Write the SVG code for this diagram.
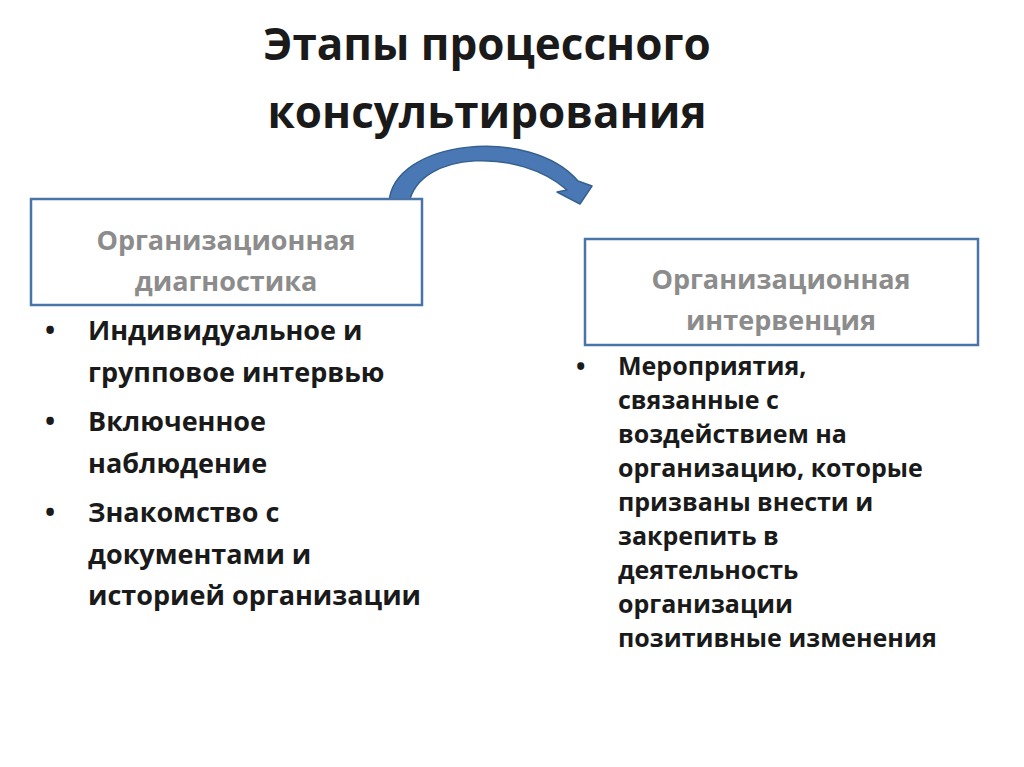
<svg xmlns="http://www.w3.org/2000/svg" width="1024" height="767" viewBox="0 0 1024 767">
<style>
.t{font-family:"Open Sans","Liberation Sans",sans-serif;font-weight:bold}
.title{font-size:44px;fill:#1a1a1a;font-weight:bold}
.box{fill:#fff;stroke:#4a74a8;stroke-width:2.5}
.h{font-size:27px;fill:#8c8c8c}
.b1{font-size:27px;fill:#1a1a1a}
.b2{font-size:25px;fill:#1a1a1a}
</style>
<rect width="1024" height="767" fill="#fff"/>
<g id="title"><text class="t title" text-anchor="middle" x="487" y="60">Этапы процессного</text>
<text class="t title" text-anchor="middle" x="487" y="128">консультирования</text></g>
<g id="connectors">
<path d="M389,203 C392,140 530,125 578,181 L592,186 L580,204 L557,192 L567,190 C520,148 420,150 409,203 Z" fill="#4a78b4" stroke="#35608f" stroke-width="1.5" stroke-linejoin="round"/>
</g>
<g id="node1"><rect class="box" x="31" y="199" width="391" height="106"/>
<text class="t h" text-anchor="middle" x="226" y="250">Организационная</text>
<text class="t h" text-anchor="middle" x="226" y="291">диагностика</text></g>
<g id="node2"><rect class="box" x="585" y="239" width="393" height="106"/>
<text class="t h" text-anchor="middle" x="781" y="289">Организационная</text>
<text class="t h" text-anchor="middle" x="781" y="330">интервенция</text></g>
<g id="list1" class="t b1">
<text x="45" y="340">•</text><text x="88" y="340">Индивидуальное и</text>
<text x="88" y="382">групповое интервью</text>
<text x="45" y="431">•</text><text x="88" y="431">Включенное</text>
<text x="88" y="473">наблюдение</text>
<text x="45" y="522">•</text><text x="88" y="522">Знакомство с</text>
<text x="88" y="564">документами и</text>
<text x="88" y="605">историей организации</text>
</g>
<g id="list2" class="t b2">
<text x="576" y="375">•</text><text x="618" y="375">Мероприятия,</text>
<text x="618" y="409">связанные с</text>
<text x="618" y="443">воздействием на</text>
<text x="618" y="477">организацию, которые</text>
<text x="618" y="511">призваны внести и</text>
<text x="618" y="545">закрепить в</text>
<text x="618" y="579">деятельность</text>
<text x="618" y="613">организации</text>
<text x="618" y="647">позитивные изменения</text>
</g>
</svg>
